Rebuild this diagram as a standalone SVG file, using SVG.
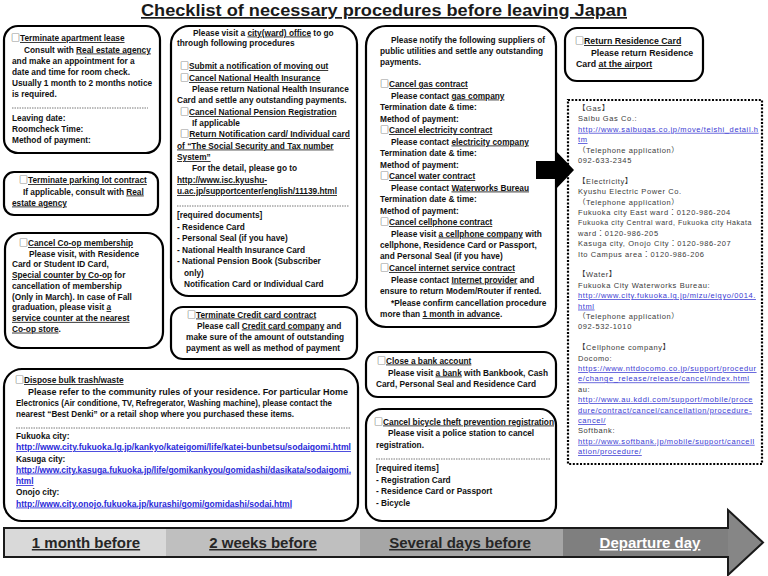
<svg xmlns="http://www.w3.org/2000/svg" width="768" height="576" viewBox="0 0 768 576">
<style>
.box{fill:#fff;stroke:#000;stroke-width:2.2}
.t{font-family:"Liberation Sans","DejaVu Sans",sans-serif;font-size:8.3px;font-weight:bold;fill:#111}
.t9{font-size:8.8px}
.cb{font-family:"Noto Sans CJK JP","DejaVu Sans",sans-serif;font-weight:normal;font-size:9px}
.u{text-decoration:underline}
.dash{stroke:#555;stroke-width:0.8;stroke-dasharray:1.5 1;fill:none}
.s{font-family:"Liberation Sans","Noto Sans CJK JP",sans-serif;font-size:7.5px;fill:#3a3a3a;letter-spacing:0.6px}
.lnk{fill:#3a3ad2;text-decoration:underline}
.bl{fill:#2a2ad8;text-decoration:underline}
.title{font-family:"Liberation Sans",sans-serif;font-size:17px;font-weight:bold;fill:#1a1a1a;text-decoration:underline}
.tl{font-family:"Liberation Sans",sans-serif;font-size:15px;font-weight:bold;fill:#262626;text-decoration:underline}
</style>

<g id="title">
<text class="title" x="384" y="16" text-anchor="middle" textLength="486" lengthAdjust="spacingAndGlyphs">Checklist of necessary procedures before leaving Japan</text>
</g>

<g id="apartment">
<rect class="box" x="4" y="26" width="156" height="127" rx="14"/>
<text class="t" x="11" y="41"><tspan class="cb">□</tspan><tspan class="u">Terminate apartment lease</tspan></text>
<text class="t" x="24" y="52.5">Consult with <tspan class="u">Real estate agency</tspan></text>
<text class="t" x="12" y="63.5">and make an appointment for a</text>
<text class="t" x="12" y="74.5">date and time for room check.</text>
<text class="t" x="12" y="86">Usually 1 month to 2 months notice</text>
<text class="t" x="12" y="97">is required.</text>
<line class="dash" x1="12" y1="108" x2="148" y2="108"/>
<text class="t" x="12" y="120.5">Leaving date:</text>
<text class="t" x="12" y="131.5">Roomcheck Time:</text>
<text class="t" x="12" y="142.5">Method of payment:</text>
</g>

<g id="parking">
<rect class="box" x="4" y="172" width="154" height="43" rx="10"/>
<text class="t" x="19" y="183"><tspan class="cb">□</tspan><tspan class="u">Terminate parking lot contract</tspan></text>
<text class="t" x="23" y="194.5">If applicable, consult with <tspan class="u">Real</tspan></text>
<text class="t" x="12" y="205.5"><tspan class="u">estate agency</tspan></text>
</g>

<g id="coop">
<rect class="box" x="5" y="233" width="158" height="115" rx="16"/>
<text class="t" x="19" y="246"><tspan class="cb">□</tspan><tspan class="u">Cancel Co-op membership</tspan></text>
<text class="t" x="29" y="256.7">Please visit, with Residence</text>
<text class="t" x="12" y="267.4">Card or Student ID Card,</text>
<text class="t" x="12" y="278.1"><tspan class="u">Special counter by Co-op</tspan> for</text>
<text class="t" x="12" y="288.8">cancellation of membership</text>
<text class="t" x="12" y="299.5">(Only in March). In case of Fall</text>
<text class="t" x="12" y="310.2">graduation, please visit <tspan class="u">a</tspan></text>
<text class="t" x="12" y="320.9"><tspan class="u">service counter at the nearest</tspan></text>
<text class="t" x="12" y="331.6"><tspan class="u">Co-op store</tspan>.</text>
</g>

<g id="dispose">
<rect class="box" x="4" y="369" width="354" height="152" rx="18"/>
<text class="t" x="15" y="383"><tspan class="cb">□</tspan><tspan class="u">Dispose bulk trash/waste</tspan></text>
<text class="t" x="28" y="394.5" textLength="320" lengthAdjust="spacingAndGlyphs">Please refer to the community rules of your residence. For particular Home</text>
<text class="t" x="16" y="406" textLength="316" lengthAdjust="spacingAndGlyphs">Electronics (Air conditione, TV, Refregerator, Washing machine), please contact the</text>
<text class="t" x="16" y="417" textLength="278" lengthAdjust="spacingAndGlyphs">nearest “Best Denki” or a retail shop where you purchased these items.</text>
<line class="dash" x1="16" y1="428" x2="351" y2="428"/>
<text class="t" x="16" y="439">Fukuoka city:</text>
<text class="t bl" x="16" y="450" textLength="335" lengthAdjust="spacingAndGlyphs">http://www.city.fukuoka.lg.jp/kankyo/kateigomi/life/katei-bunbetsu/sodaigomi.html</text>
<text class="t" x="16" y="461.5">Kasuga city:</text>
<text class="t bl" x="16" y="472.5" textLength="335" lengthAdjust="spacingAndGlyphs">http://www.city.kasuga.fukuoka.jp/life/gomikankyou/gomidashi/dasikata/sodaigomi.</text>
<text class="t bl" x="16" y="484">html</text>
<text class="t" x="16" y="495">Onojo city:</text>
<text class="t bl" x="16" y="506.5" textLength="276" lengthAdjust="spacingAndGlyphs">http://www.city.onojo.fukuoka.jp/kurashi/gomi/gomidashi/sodai.html</text>
</g>

<g id="cityoffice">
<rect class="box" x="171" y="26" width="186" height="270" rx="18"/>
<text class="t" x="193" y="35.5">Please visit a <tspan class="u">city(ward) office</tspan> to go</text>
<text class="t" x="177" y="45.5">through following procedures</text>
<text class="t" x="180" y="69"><tspan class="cb">□</tspan><tspan class="u">Submit a notification of moving out</tspan></text>
<text class="t" x="180" y="81"><tspan class="cb">□</tspan><tspan class="u">Cancel National Health Insurance</tspan></text>
<text class="t" x="192" y="92">Please return National Health Insurance</text>
<text class="t" x="177" y="103">Card and settle any outstanding payments.</text>
<text class="t" x="180" y="115"><tspan class="cb">□</tspan><tspan class="u">Cancel National Pension Registration</tspan></text>
<text class="t" x="192" y="126">If applicable</text>
<text class="t" x="180" y="137" textLength="170" lengthAdjust="spacingAndGlyphs"><tspan class="cb">□</tspan><tspan class="u">Return Notification card/ Individual card</tspan></text>
<text class="t" x="177" y="148.5"><tspan class="u">of “The Social Security and Tax number</tspan></text>
<text class="t" x="177" y="160"><tspan class="u">System”</tspan></text>
<text class="t" x="192" y="171">For the detail, please go to</text>
<text class="t" x="177" y="183"><tspan class="u">http://www.isc.kyushu-</tspan></text>
<text class="t" x="177" y="194"><tspan class="u">u.ac.jp/supportcenter/english/11139.html</tspan></text>
<line class="dash" x1="177" y1="206" x2="349" y2="206"/>
<text class="t" x="177" y="218">[required documents]</text>
<text class="t" x="177" y="229.5">- Residence Card</text>
<text class="t" x="177" y="241">- Personal Seal (if you have)</text>
<text class="t" x="177" y="252.5">- National Health Insurance Card</text>
<text class="t" x="177" y="264">- National Pension Book (Subscriber</text>
<text class="t" x="184" y="275.5">only)</text>
<text class="t" x="184" y="287">Notification Card or Individual Card</text>
</g>

<g id="creditcard">
<rect class="box" x="171" y="307" width="186" height="52" rx="12"/>
<text class="t" x="187" y="317.5"><tspan class="cb">□</tspan><tspan class="u">Terminate Credit card contract</tspan></text>
<text class="t" x="197" y="328.5">Please call <tspan class="u">Credit card company</tspan> and</text>
<text class="t" x="186" y="339.5">make sure of the amount of outstanding</text>
<text class="t" x="186" y="350.5">payment as well as method of payment</text>
</g>

<g id="utilities">
<rect class="box" x="366" y="26" width="190" height="301" rx="20"/>
<text class="t" x="391" y="42.5">Please notify the following suppliers of</text>
<text class="t" x="380" y="53.5">public utilities and settle any outstanding</text>
<text class="t" x="380" y="64.5">payments.</text>
<text class="t" x="380" y="87"><tspan class="cb">□</tspan><tspan class="u">Cancel gas contract</tspan></text>
<text class="t" x="391" y="98.5">Please contact <tspan class="u">gas company</tspan></text>
<text class="t" x="380" y="110">Termination date &amp; time:</text>
<text class="t" x="380" y="121.5">Method of payment:</text>
<text class="t" x="380" y="133"><tspan class="cb">□</tspan><tspan class="u">Cancel electricity contract</tspan></text>
<text class="t" x="391" y="144.5">Please contact <tspan class="u">electricity company</tspan></text>
<text class="t" x="380" y="156">Termination date &amp; time:</text>
<text class="t" x="380" y="167.5">Method of payment:</text>
<text class="t" x="380" y="179"><tspan class="cb">□</tspan><tspan class="u">Cancel water contract</tspan></text>
<text class="t" x="391" y="190.5">Please contact <tspan class="u">Waterworks Bureau</tspan></text>
<text class="t" x="380" y="202">Termination date &amp; time:</text>
<text class="t" x="380" y="213.5">Method of payment:</text>
<text class="t" x="380" y="225"><tspan class="cb">□</tspan><tspan class="u">Cancel cellphone contract</tspan></text>
<text class="t" x="391" y="236.5">Please visit <tspan class="u">a cellphone company</tspan> with</text>
<text class="t" x="380" y="247.5">cellphone, Residence Card or Passport,</text>
<text class="t" x="380" y="258.5">and Personal Seal (if you have)</text>
<text class="t" x="380" y="271"><tspan class="cb">□</tspan><tspan class="u">Cancel internet service contract</tspan></text>
<text class="t" x="391" y="282.5">Please contact <tspan class="u">Internet provider</tspan> and</text>
<text class="t" x="380" y="294">ensure to return Modem/Router if rented.</text>
<text class="t" x="391" y="305.5">*Please confirm cancellation procedure</text>
<text class="t" x="380" y="317">more than <tspan class="u">1 month in advance</tspan>.</text>
</g>

<g id="bank">
<rect class="box" x="366" y="352" width="190" height="45" rx="12"/>
<text class="t" x="377" y="363.5"><tspan class="cb">□</tspan><tspan class="u">Close a bank account</tspan></text>
<text class="t" x="388" y="375.5">Please visit <tspan class="u">a bank</tspan> with Bankbook, Cash</text>
<text class="t" x="376" y="387">Card, Personal Seal and Residence Card</text>
</g>

<g id="bicycle">
<rect class="box" x="366" y="409" width="190" height="112" rx="16"/>
<text class="t" x="374" y="424.5" textLength="180" lengthAdjust="spacingAndGlyphs"><tspan class="cb">□</tspan><tspan class="u">Cancel bicycle theft prevention registration</tspan></text>
<text class="t" x="388" y="436">Please visit a police station to cancel</text>
<text class="t" x="376" y="448">registration.</text>
<line class="dash" x1="376" y1="459" x2="551" y2="459"/>
<text class="t" x="376" y="471">[required items]</text>
<text class="t" x="376" y="482.5">- Registration Card</text>
<text class="t" x="376" y="494">- Residence Card or Passport</text>
<text class="t" x="376" y="505.5">- Bicycle</text>
</g>

<g id="residencecard">
<rect class="box" x="565" y="28" width="138" height="53" rx="12"/>
<text class="t t9" x="575" y="44"><tspan class="cb">□</tspan><tspan class="u">Return Residence Card</tspan></text>
<text class="t t9" x="591" y="55.5">Please return Residence</text>
<text class="t t9" x="576" y="67">Card <tspan class="u">at the airport</tspan></text>
</g>

<g id="contacts">
<rect x="568" y="100" width="194" height="364" fill="#fff" stroke="#000" stroke-width="2.2" stroke-dasharray="2 1.6"/>
<text class="s" x="578" y="111">【Gas】</text>
<text class="s" x="578" y="121.4">Saibu Gas Co.:</text>
<text class="s lnk" x="578" y="131.8">http://www.saibugas.co.jp/move/teishi_detail.h</text>
<text class="s lnk" x="578" y="142.2">tm</text>
<text class="s" x="578" y="152.6">（Telephone application）</text>
<text class="s" x="578" y="163">092-633-2345</text>
<text class="s" x="578" y="183.8">【Electricity】</text>
<text class="s" x="578" y="194.2">Kyushu Electric Power Co.</text>
<text class="s" x="578" y="204.6">（Telephone application）</text>
<text class="s" x="578" y="215">Fukuoka city East ward：0120-986-204</text>
<text class="s" x="578" y="225.4" textLength="174" lengthAdjust="spacingAndGlyphs">Fukuoka city Central ward, Fukuoka city Hakata</text>
<text class="s" x="578" y="235.8">ward：0120-986-205</text>
<text class="s" x="578" y="246.2">Kasuga city, Onojo City：0120-986-207</text>
<text class="s" x="578" y="256.6">Ito Campus area：0120-986-206</text>
<text class="s" x="578" y="277.4">【Water】</text>
<text class="s" x="578" y="287.8">Fukuoka City Waterworks Bureau:</text>
<text class="s lnk" x="578" y="298.2">http://www.city.fukuoka.lg.jp/mizu/eigyo/0014.</text>
<text class="s lnk" x="578" y="308.6">html</text>
<text class="s" x="578" y="319">（Telephone application）</text>
<text class="s" x="578" y="329.4">092-532-1010</text>
<text class="s" x="578" y="350.2">【Cellphone company】</text>
<text class="s" x="578" y="360.6">Docomo:</text>
<text class="s lnk" x="578" y="371">https://www.nttdocomo.co.jp/support/procedur</text>
<text class="s lnk" x="578" y="381.4">e/change_release/release/cancel/index.html</text>
<text class="s" x="578" y="391.8">au:</text>
<text class="s lnk" x="578" y="402.2">http://www.au.kddi.com/support/mobile/proce</text>
<text class="s lnk" x="578" y="412.6">dure/contract/cancel/cancellation/procedure-</text>
<text class="s lnk" x="578" y="423">cancel/</text>
<text class="s" x="578" y="433.4">Softbank:</text>
<text class="s lnk" x="578" y="443.8">http://www.softbank.jp/mobile/support/cancell</text>
<text class="s lnk" x="578" y="454.2">ation/procedure/</text>
</g>

<g id="connectors">
<polygon points="536,161 556,161 556,151 574,170 556,189 556,179 536,179" fill="#000"/>
</g>

<g id="timeline">
<rect x="4" y="528" width="162" height="29" fill="#d9d9d9"/>
<rect x="166" y="528" width="194" height="29" fill="#bfbfbf"/>
<rect x="360" y="528" width="203" height="29" fill="#a6a6a6"/>
<rect x="563" y="528" width="166" height="29" fill="#7f7f7f"/>
<polygon points="728,510 763,542.5 728,575" fill="#868686"/>
<path d="M4,528 H728 V510 L763,542.5 L728,575 V557 H4 Z" fill="none" stroke="#1a1a1a" stroke-width="2"/>
<text class="tl" x="86" y="548" text-anchor="middle">1 month before</text>
<text class="tl" x="263" y="548" text-anchor="middle">2 weeks before</text>
<text class="tl" x="460" y="548" text-anchor="middle">Several days before</text>
<text class="tl" x="650" y="548" text-anchor="middle" style="fill:#fff">Departure day</text>
</g>
</svg>
